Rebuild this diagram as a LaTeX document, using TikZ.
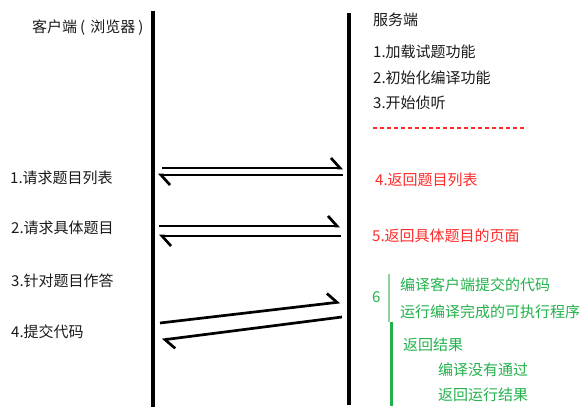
\documentclass[tikz,border=0pt]{standalone}
\usepackage{fontspec}
\setmainfont{Noto Sans CJK SC}
\usepackage{xcolor}
\usepackage{tikz}
\usetikzlibrary{arrows.meta}
\definecolor{ink}{HTML}{1A1A1A}
\definecolor{red}{HTML}{FF2A2A}
\definecolor{green}{HTML}{22B14C}
\definecolor{lightgreen}{HTML}{8ED29E}
\tikzset{
  life/.style={draw=black, line width=4.5pt},
  msg/.style={draw=black, line width=2.7pt, -{Straight Barb[harpoon,length=9pt,width=20pt]}},
  sep/.style={draw=red, dash pattern=on 4pt off 3pt, line width=1.3pt},
  bar/.style={draw=green, line width=3pt},
  barl/.style={draw=lightgreen, line width=1.4pt},
  lab/.style={anchor=west, inner sep=0pt, text=ink, font=\fontsize{15}{17}\selectfont},
  labr/.style={lab, text=red},
  labg/.style={lab, text=green}
}
\begin{document}
\begin{tikzpicture}[x=1pt,y=-1pt]
  \useasboundingbox (0,0) rectangle (586,417);

  % lifelines
  \coordinate (C0) at (153,11);
  \coordinate (C1) at (153,407);
  \coordinate (S0) at (349,13);
  \coordinate (S1) at (349,405);
  \draw[life] (C0) -- (C1);
  \draw[life] (S0) -- (S1);

  % message ends
  \coordinate (a1) at (162,168);
  \coordinate (b1) at (343,168);
  \coordinate (a2) at (343,175);
  \coordinate (b2) at (158,175);
  \coordinate (a3) at (159,226);
  \coordinate (b3) at (340,226);
  \coordinate (a4) at (341,236);
  \coordinate (b4) at (159,236);
  \coordinate (a5) at (160,323);
  \coordinate (b5) at (340,302);
  \coordinate (a6) at (342,317);
  \coordinate (b6) at (162,340);

  \draw[msg] (a1) -- (b1);
  \draw[msg] (a2) -- (b2);
  \draw[msg] (a3) -- (b3);
  \draw[msg] (a4) -- (b4);
  \draw[msg] (a5) -- (b5);
  \draw[msg] (a6) -- (b6);

  % client side
  \node[lab] (client) at (32,28) {客户端\kern3pt(\kern5pt浏览器\kern3pt)};
  \node[lab] (q1) at (10,178) {1.请求题目列表};
  \node[lab] (q2) at (11,228) {2.请求具体题目};
  \node[lab] (q3) at (11,281) {3.针对题目作答};
  \node[lab] (q4) at (11,332) {4.提交代码};

  % server side
  \node[lab] (server) at (373,20) {服务端};
  \node[lab] (s1) at (373,52) {1.加载试题功能};
  \node[lab] (s2) at (373,78) {2.初始化编译功能};
  \node[lab] (s3) at (373,103) {3.开始侦听};
  \coordinate (d0) at (373,128);
  \coordinate (d1) at (527,128);
  \draw[sep] (d0) -- (d1);

  \node[labr] (r4) at (375,180) {4.返回题目列表};
  \node[labr] (r5) at (372,236) {5.返回具体题目的页面};

  % step 6
  \coordinate (g0) at (389,274);
  \coordinate (g1) at (389,322);
  \coordinate (g2) at (391,322);
  \coordinate (g3) at (391,406);
  \draw[barl] (g0) -- (g1);
  \draw[bar] (g2) -- (g3);
  \node[labg] (six) at (372,297) {6};
  \node[labg] (t1) at (400,285) {编译客户端提交的代码};
  \node[labg] (t2) at (400,312) {运行编译完成的可执行程序};
  \node[labg] (t3) at (403,345) {返回结果};
  \node[labg] (t4) at (438,370) {编译没有通过};
  \node[labg] (t5) at (438,395) {返回运行结果};
\end{tikzpicture}
\end{document}
